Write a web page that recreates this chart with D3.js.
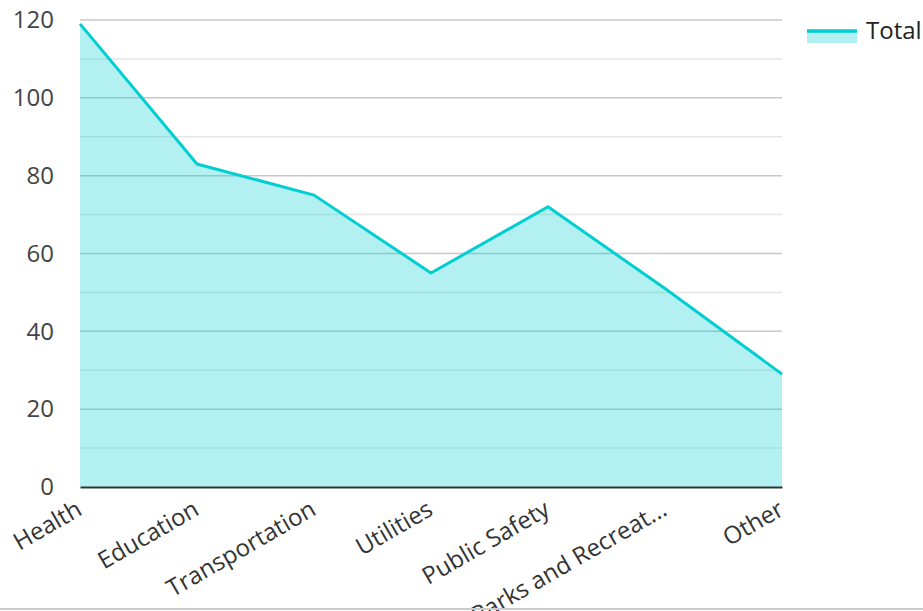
<!DOCTYPE html>
<html>
<head>
<meta charset="utf-8">
<script src="https://cdn.jsdelivr.net/npm/d3@7"></script>
<style>
  body { margin: 0; background: #fff; }
  text { font-family: "Open Sans", sans-serif; }
</style>
</head>
<body>
<svg id="chart"></svg>
<script>
const categories = ["Health", "Education", "Transportation", "Utilities", "Public Safety", "Parks and Recreat...", "Other"];
const totals = [119, 83, 75, 55, 72, 51, 29];
const yTicks = [0, 20, 40, 60, 80, 100, 120];
const seriesName = "Total";

var width = 923, height = 611;
var margin = {top: 20, right: 141, bottom: 124, left: 80};
var lineColor = "#00CED1";

var svg = d3.select("#chart")
   .attr("width", width)
   .attr("height", height);

var x = d3.scalePoint()
   .domain(categories)
   .range([margin.left, width - margin.right]);

var y = d3.scaleLinear()
   .domain([0, 120])
   .range([height - margin.bottom, margin.top]);

// minor grid (every 10)
svg.append("g")
   .selectAll("line")
   .data(d3.range(10, 120, 20))
   .enter()
   .append("line")
   .attr("x1", margin.left).attr("x2", width - margin.right)
   .attr("y1", d => y(d)).attr("y2", d => y(d))
   .attr("stroke", "#e6e6e6")
   .attr("stroke-width", 1.5);

// major grid
svg.append("g")
   .selectAll("line")
   .data(yTicks.filter(d => d > 0))
   .enter()
   .append("line")
   .attr("x1", margin.left).attr("x2", width - margin.right)
   .attr("y1", d => y(d)).attr("y2", d => y(d))
   .attr("stroke", "#c8c8c8")
   .attr("stroke-width", 1.5);

var area = d3.area()
   .x((d, i) => x(categories[i]))
   .y0(y(0))
   .y1(d => y(d));

var line = d3.line()
   .x((d, i) => x(categories[i]))
   .y(d => y(d));

svg.append("path")
   .datum(totals)
   .attr("d", area)
   .attr("fill", lineColor)
   .attr("fill-opacity", 0.3);

svg.append("path")
   .datum(totals)
   .attr("d", line)
   .attr("fill", "none")
   .attr("stroke", lineColor)
   .attr("stroke-width", 3)
   .attr("stroke-linejoin", "round");

// y axis labels
var yAxis = svg.append("g")
   .attr("transform", "translate(" + (margin.left - 26) + ",0)")
   .call(d3.axisLeft(y).tickValues(yTicks).tickSize(0).tickPadding(0));
yAxis.select(".domain").remove();
yAxis.selectAll("text")
   .attr("font-size", 24)
   .attr("fill", "#444")
   .style("font-family", "'Open Sans', sans-serif");

// x axis
var xAxis = svg.append("g")
   .attr("transform", "translate(0," + y(0) + ")")
   .call(d3.axisBottom(x).tickSize(0).tickPadding(0));
xAxis.select(".domain")
   .attr("stroke", "#333")
   .attr("stroke-width", 2);
xAxis.selectAll("text")
   .attr("font-size", 24)
   .attr("fill", "#333")
   .style("font-family", "'Open Sans', sans-serif")
   .attr("text-anchor", "end")
   .attr("dy", 0)
   .attr("y", 0)
   .attr("transform", "translate(3,27) rotate(-30)");

// legend
var legend = svg.append("g").attr("transform", "translate(807,29)");
legend.append("rect")
   .attr("x", 0).attr("y", 2)
   .attr("width", 50).attr("height", 12)
   .attr("fill", lineColor).attr("fill-opacity", 0.3);
legend.append("line")
   .attr("x1", 0).attr("x2", 50)
   .attr("y1", 2).attr("y2", 2)
   .attr("stroke", lineColor).attr("stroke-width", 3.5);
legend.append("text")
   .attr("x", 59).attr("y", 2)
   .attr("dy", "0.35em")
   .attr("font-size", 24)
   .attr("fill", "#222")
   .text(seriesName);

// bottom border
svg.append("line")
   .attr("x1", 0).attr("x2", width)
   .attr("y1", 609).attr("y2", 609)
   .attr("stroke", "#ccc").attr("stroke-width", 2);
</script>
</body>
</html>
